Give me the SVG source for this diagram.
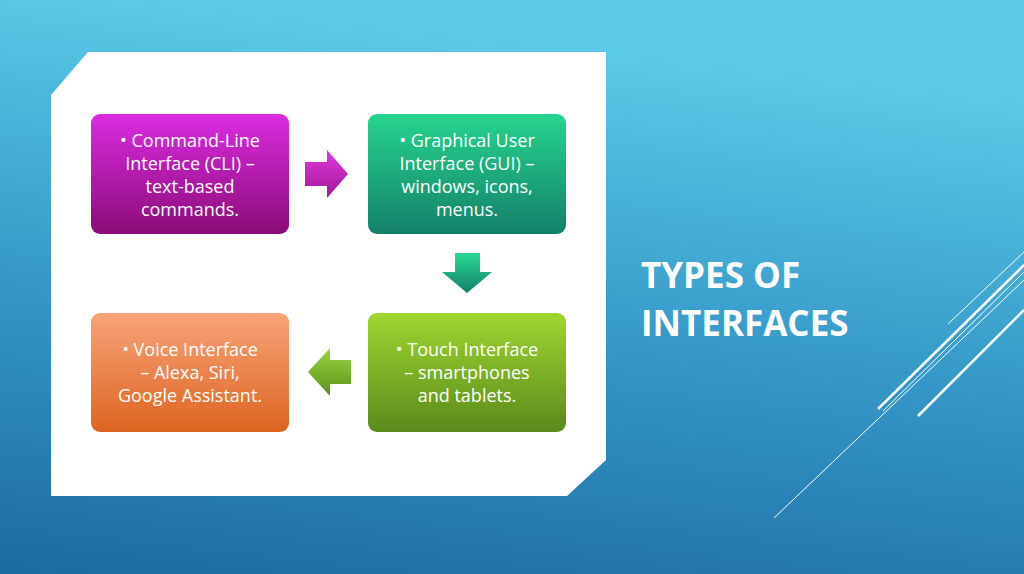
<svg xmlns="http://www.w3.org/2000/svg" width="1024" height="574" viewBox="0 0 1024 574">
<defs>
<linearGradient id="bg" x1="0.2" y1="0" x2="0" y2="1"><stop offset="0" stop-color="#5ccbe8"/><stop offset="0.5" stop-color="#3598c8"/><stop offset="1" stop-color="#1c6aa2"/></linearGradient>
<linearGradient id="mag" x1="0" y1="0" x2="0" y2="1"><stop offset="0" stop-color="#da2ce0"/><stop offset="1" stop-color="#8a0c78"/></linearGradient>
<linearGradient id="grn" x1="0" y1="0" x2="0" y2="1"><stop offset="0" stop-color="#26d48e"/><stop offset="1" stop-color="#14806a"/></linearGradient>
<linearGradient id="lim" x1="0" y1="0" x2="0" y2="1"><stop offset="0" stop-color="#9ed630"/><stop offset="1" stop-color="#5a8a1c"/></linearGradient>
<linearGradient id="org" x1="0" y1="0" x2="0" y2="1"><stop offset="0" stop-color="#f8a47a"/><stop offset="1" stop-color="#dc6420"/></linearGradient>
<linearGradient id="amag" x1="0" y1="0" x2="0" y2="1"><stop offset="0" stop-color="#e038e0"/><stop offset="1" stop-color="#a01890"/></linearGradient>
<linearGradient id="agrn" x1="0" y1="0" x2="0" y2="1"><stop offset="0" stop-color="#2ad893"/><stop offset="1" stop-color="#138068"/></linearGradient>
<linearGradient id="alim" x1="0" y1="0" x2="0" y2="1"><stop offset="0" stop-color="#9cd43a"/><stop offset="1" stop-color="#5a9020"/></linearGradient>
</defs>
<style>
.t{font-family:"Open Sans","Liberation Sans",sans-serif;font-size:18px;fill:#fff;text-anchor:middle}
.h{font-family:"Open Sans","Liberation Sans",sans-serif;font-size:35px;font-weight:bold;fill:#fff}
.ln{stroke:#fff;fill:none}
</style>
<rect width="1024" height="574" fill="url(#bg)"/>
<g id="deco">
<line class="ln" x1="948" y1="324" x2="1024" y2="252" stroke-width="1"/>
<line class="ln" x1="878" y1="409" x2="1024" y2="265" stroke-width="2.5"/>
<line class="ln" x1="883" y1="411" x2="1024" y2="272" stroke-width="1"/>
<line class="ln" x1="774" y1="518" x2="1024" y2="280" stroke-width="1"/>
<line class="ln" x1="918" y1="416" x2="1024" y2="310" stroke-width="2.5"/>
</g>
<polygon id="panel" points="88,52 606,52 606,460 567,496 51,496 51,95" fill="#fff"/>
<text class="h" x="641" y="288">TYPES OF</text>
<text class="h" x="641" y="336">INTERFACES</text>
<g id="connectors">
<polygon points="305,162 327,162 327,150 348,174 327,198 327,186 305,186" fill="url(#amag)"/>
<polygon points="455,253 480,253 480,272 492,272 467,293 442,272 455,272" fill="url(#agrn)"/>
<polygon points="351,360 330,360 330,348 308,372 330,396 330,384 351,384" fill="url(#alim)"/>
</g>
<g id="cli"><rect x="91" y="114" width="198" height="120" rx="9" fill="url(#mag)"/>
<text class="t" x="190" y="147">• Command-Line</text><text class="t" x="190" y="170">Interface (CLI) –</text><text class="t" x="190" y="193">text-based</text><text class="t" x="190" y="216">commands.</text></g>
<g id="gui"><rect x="368" y="114" width="198" height="120" rx="9" fill="url(#grn)"/>
<text class="t" x="467" y="147">• Graphical User</text><text class="t" x="467" y="170">Interface (GUI) –</text><text class="t" x="467" y="193">windows, icons,</text><text class="t" x="467" y="216">menus.</text></g>
<g id="touch"><rect x="368" y="313" width="198" height="119" rx="9" fill="url(#lim)"/>
<text class="t" x="467" y="356">• Touch Interface</text><text class="t" x="467" y="379">– smartphones</text><text class="t" x="467" y="402">and tablets.</text></g>
<g id="voice"><rect x="91" y="313" width="198" height="119" rx="9" fill="url(#org)"/>
<text class="t" x="190" y="356">• Voice Interface</text><text class="t" x="190" y="379">– Alexa, Siri,</text><text class="t" x="190" y="402">Google Assistant.</text></g>
</svg>
